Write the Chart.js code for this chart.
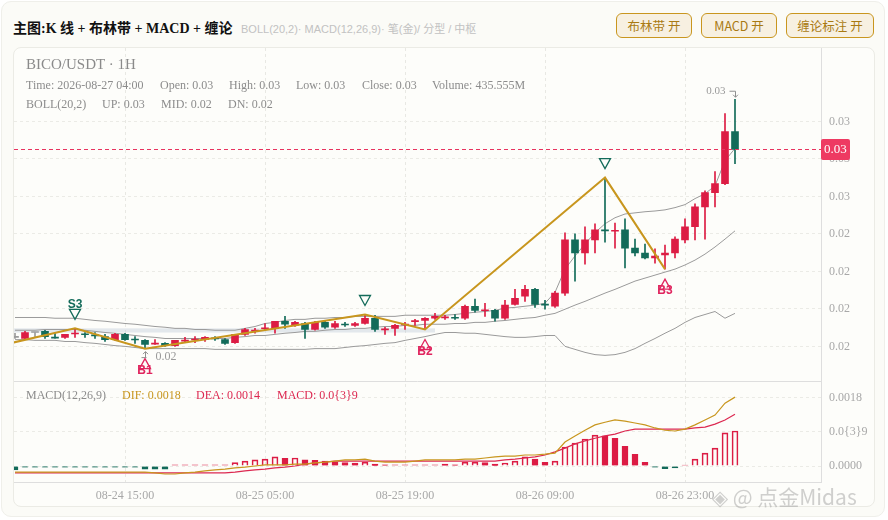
<!DOCTYPE html>
<html>
<head>
<meta charset="utf-8">
<script src="https://cdn.jsdelivr.net/npm/chart.js@4.4.1/dist/chart.umd.min.js"></script>
<style>
  body { margin: 0; width: 888px; height: 520px; background: #ffffff; position: relative; overflow: hidden;
         font-family: "Noto Sans CJK SC", "Noto Sans", sans-serif; }
  .card { position: absolute; left: 1px; top: 1px; width: 884px; height: 516px; box-sizing: border-box;
          border: 1px solid #efefea; border-radius: 10px; background: #fbfbf7; }
  .panel { position: absolute; left: 13px; top: 47px; width: 862px; height: 460px; box-sizing: border-box;
           border: 1px solid #ebebe5; border-radius: 8px; background: #fdfdfa; }
  .title { position: absolute; left: 13px; top: 17px; font: bold 14px "Liberation Serif", "Noto Sans CJK SC", serif; color: #111; white-space: nowrap; }
  .sub { position: absolute; left: 241px; top: 20px; font: 11px "Liberation Sans", "Noto Sans CJK SC", sans-serif; color: #c2c2c2; white-space: nowrap; }
  .btn { position: absolute; top: 13px; height: 25px; box-sizing: border-box; border: 1px solid #c9961f; border-radius: 6px;
         background: #f7f0e1; color: #a97a12; font-size: 12.5px; line-height: 23px; text-align: center; white-space: nowrap; }
  .wrap { position: absolute; left: 14px; top: 48px; width: 860px; height: 458px; }
  .info { position: absolute; font: 12px "Liberation Serif", serif; color: #8c8c8c; white-space: nowrap; }
  .mark { position: absolute; left: 712px; top: 481px; font-size: 21px; color: rgba(150,150,150,0.45); white-space: nowrap; }
</style>
</head>
<body>
<div class="card"></div>
<div class="panel"></div>
<div class="title">主图:K 线 + 布林带 + MACD + 缠论</div>
<div class="sub">BOLL(20,2)· MACD(12,26,9)· 笔(金)/ 分型 / 中枢</div>
<div class="btn" style="left:616px;width:76px">布林带 开</div>
<div class="btn" style="left:701px;width:76px">MACD 开</div>
<div class="btn" style="left:786px;width:88px">缠论标注 开</div>
<div class="wrap"><canvas id="kChart"></canvas></div>
<div class="info" style="left:26px;top:56px;font-size:15px;color:#8a8a8a">BICO/USDT · 1H</div>
<div class="info" id="row1" style="top:78px;left:0"></div>
<div class="info" id="row2" style="top:97px;left:0"></div>
<div class="info" id="row3" style="top:388px;left:0"></div>
<div class="mark">◈ @ 点金Midas</div>

<script>
// hourly candles, 08-24 04:00 .. 08-27 04:00
const lastTime = "2026-08-27 04:00";
const volume = "435.555M";
const tickIdx = [11, 25, 39, 53, 67];
const tickLabels = ["08-24 15:00", "08-25 05:00", "08-25 19:00", "08-26 09:00", "08-26 23:00"];
const priceTicks = [0.021, 0.022, 0.023, 0.024, 0.025, 0.026, 0.027];
const macdTicks = [0, 0.0009, 0.0018];

const opens = [0.02124,0.02121,0.02137,0.02140,0.02124,0.02124,0.02133,0.02132,0.02129,0.02126,
  0.02118,0.02132,0.02118,0.02116,0.02106,0.02108,0.02102,0.02114,0.02117,0.02118,
  0.02121,0.02118,0.02110,0.02132,0.02141,0.02147,0.02148,0.02167,0.02156,0.02161,
  0.02145,0.02164,0.02151,0.02159,0.02156,0.02161,0.02175,0.02144,0.02148,0.02157,
  0.02166,0.02169,0.02175,0.02176,0.02176,0.02175,0.02207,0.02195,0.02196,0.02175,
  0.02212,0.02234,0.02252,0.02211,0.02207,0.02242,0.02384,0.02349,0.02384,0.02409,
  0.02407,0.02411,0.02362,0.02349,0.02336,0.02344,0.02349,0.02384,0.02419,0.02472,
  0.02510,0.02534,0.02673];
const highs = [0.02135,0.02140,0.02137,0.02143,0.02137,0.02132,0.02148,0.02137,0.02137,0.02132,
  0.02135,0.02135,0.02126,0.02118,0.02118,0.02110,0.02116,0.02124,0.02126,0.02126,
  0.02126,0.02121,0.02132,0.02148,0.02148,0.02161,0.02167,0.02180,0.02167,0.02164,
  0.02167,0.02167,0.02167,0.02164,0.02164,0.02185,0.02183,0.02151,0.02159,0.02164,
  0.02172,0.02177,0.02188,0.02183,0.02185,0.02210,0.02226,0.02215,0.02199,0.02223,
  0.02252,0.02263,0.02255,0.02223,0.02247,0.02403,0.02400,0.02419,0.02427,0.02550,
  0.02429,0.02440,0.02386,0.02373,0.02360,0.02370,0.02392,0.02440,0.02480,0.02515,
  0.02566,0.02721,0.02759];
const lows = [0.02121,0.02118,0.02124,0.02121,0.02122,0.02121,0.02124,0.02124,0.02121,0.02113,
  0.02116,0.02116,0.02108,0.02094,0.02105,0.02100,0.02100,0.02110,0.02110,0.02113,
  0.02116,0.02105,0.02108,0.02129,0.02135,0.02143,0.02135,0.02148,0.02153,0.02121,
  0.02143,0.02148,0.02148,0.02153,0.02153,0.02159,0.02140,0.02132,0.02129,0.02145,
  0.02156,0.02145,0.02172,0.02172,0.02172,0.02172,0.02191,0.02180,0.02167,0.02172,
  0.02210,0.02220,0.02204,0.02199,0.02204,0.02236,0.02274,0.02319,0.02349,0.02378,
  0.02362,0.02309,0.02341,0.02333,0.02322,0.02306,0.02336,0.02376,0.02384,0.02386,
  0.02472,0.02531,0.02587];
const closes = [0.02124,0.02137,0.02137,0.02126,0.02122,0.02132,0.02135,0.02131,0.02128,0.02118,
  0.02132,0.02118,0.02117,0.02105,0.02108,0.02102,0.02116,0.02116,0.02118,0.02124,
  0.02120,0.02108,0.02132,0.02145,0.02143,0.02148,0.02167,0.02159,0.02164,0.02145,
  0.02164,0.02151,0.02161,0.02157,0.02161,0.02175,0.02145,0.02145,0.02156,0.02159,
  0.02167,0.02175,0.02180,0.02177,0.02175,0.02207,0.02196,0.02196,0.02175,0.02210,
  0.02228,0.02252,0.02212,0.02210,0.02242,0.02384,0.02349,0.02384,0.02411,0.02408,
  0.02408,0.02362,0.02349,0.02336,0.02341,0.02349,0.02386,0.02419,0.02472,0.02510,
  0.02534,0.02673,0.02625];

const bollUp = [0.02177,0.02177,0.02177,0.02177,0.02175,0.02175,0.02175,0.02172,0.02169,0.02167,
  0.02164,0.02161,0.02159,0.02156,0.02153,0.02151,0.02148,0.02148,0.02145,0.02145,
  0.02143,0.02143,0.02143,0.02148,0.02153,0.02161,0.02164,0.02169,0.02172,0.02172,
  0.02175,0.02175,0.02177,0.02177,0.02180,0.02180,0.02180,0.02180,0.02180,0.02183,
  0.02183,0.02183,0.02183,0.02183,0.02185,0.02188,0.02191,0.02193,0.02196,0.02202,
  0.02204,0.02207,0.02210,0.02215,0.02244,0.02306,0.02341,0.02373,0.02403,0.02427,
  0.02443,0.02453,0.02456,0.02459,0.02461,0.02464,0.02470,0.02478,0.02494,0.02507,
  0.02528,0.02595,0.02628];
const bollMid = [0.02143,0.02143,0.02143,0.02145,0.02145,0.02145,0.02145,0.02143,0.02140,0.02137,
  0.02135,0.02132,0.02129,0.02126,0.02124,0.02121,0.02121,0.02121,0.02121,0.02121,
  0.02121,0.02121,0.02124,0.02126,0.02129,0.02129,0.02132,0.02135,0.02137,0.02140,
  0.02140,0.02143,0.02145,0.02145,0.02148,0.02148,0.02151,0.02153,0.02153,0.02156,
  0.02156,0.02159,0.02159,0.02159,0.02161,0.02161,0.02164,0.02164,0.02167,0.02169,
  0.02172,0.02175,0.02177,0.02183,0.02188,0.02199,0.02210,0.02220,0.02231,0.02242,
  0.02252,0.02263,0.02274,0.02282,0.02290,0.02298,0.02306,0.02317,0.02330,0.02346,
  0.02365,0.02386,0.02408];
const bollDn = [0.02118,0.02118,0.02116,0.02116,0.02116,0.02113,0.02113,0.02110,0.02108,0.02105,
  0.02102,0.02100,0.02097,0.02094,0.02094,0.02094,0.02094,0.02094,0.02094,0.02094,
  0.02092,0.02092,0.02092,0.02092,0.02092,0.02092,0.02092,0.02092,0.02092,0.02092,
  0.02094,0.02094,0.02094,0.02097,0.02100,0.02102,0.02105,0.02108,0.02110,0.02116,
  0.02121,0.02126,0.02132,0.02137,0.02137,0.02135,0.02135,0.02132,0.02129,0.02126,
  0.02124,0.02124,0.02126,0.02129,0.02129,0.02100,0.02092,0.02084,0.02078,0.02076,
  0.02078,0.02084,0.02094,0.02108,0.02121,0.02135,0.02148,0.02164,0.02177,0.02185,
  0.02193,0.02175,0.02188];

const dif = [-0.00016,-0.00016,-0.00016,-0.00016,-0.00016,-0.00016,-0.00016,-0.00016,-0.00016,-0.00016,
  -0.00016,-0.00016,-0.00016,-0.00016,-0.00018,-0.00021,-0.00021,-0.00018,-0.00016,-0.00013,
  -0.00010,-0.00008,-0.00005,-0.00003,0.00000,0.00003,0.00003,0.00003,0.00005,0.00005,
  0.00008,0.00010,0.00013,0.00016,0.00016,0.00018,0.00013,0.00010,0.00010,0.00010,
  0.00013,0.00016,0.00016,0.00016,0.00016,0.00018,0.00018,0.00021,0.00024,0.00026,
  0.00026,0.00029,0.00029,0.00031,0.00034,0.00063,0.00079,0.00094,0.00108,0.00115,
  0.00121,0.00118,0.00113,0.00108,0.00100,0.00094,0.00092,0.00097,0.00108,0.00121,
  0.00134,0.00165,0.00181];
const dea = [-0.00018,-0.00018,-0.00018,-0.00018,-0.00018,-0.00018,-0.00018,-0.00018,-0.00018,-0.00018,
  -0.00018,-0.00018,-0.00018,-0.00018,-0.00018,-0.00018,-0.00018,-0.00018,-0.00018,-0.00018,
  -0.00018,-0.00018,-0.00016,-0.00013,-0.00010,-0.00008,-0.00005,-0.00003,0.00000,0.00005,
  0.00008,0.00010,0.00013,0.00013,0.00013,0.00013,0.00013,0.00013,0.00013,0.00013,
  0.00013,0.00013,0.00013,0.00013,0.00013,0.00013,0.00013,0.00013,0.00013,0.00016,
  0.00018,0.00021,0.00024,0.00029,0.00037,0.00047,0.00058,0.00066,0.00073,0.00079,
  0.00084,0.00092,0.00097,0.00097,0.00097,0.00097,0.00097,0.00097,0.00100,0.00102,
  0.00110,0.00121,0.00136];
const hist = [-0.00010,-0.00003,-0.00003,-0.00003,-0.00003,-0.00003,-0.00003,-0.00003,-0.00003,-0.00003,
  -0.00003,-0.00003,-0.00003,-0.00008,-0.00008,-0.00008,0.00003,0.00003,0.00003,0.00003,
  0.00003,0.00003,0.00009,0.00013,0.00016,0.00018,0.00024,0.00020,0.00021,0.00016,
  0.00015,0.00013,0.00010,0.00009,0.00008,0.00010,0.00005,0.00003,0.00003,0.00003,
  0.00003,0.00003,0.00003,0.00005,0.00003,0.00010,0.00010,0.00009,0.00005,0.00008,
  0.00013,0.00024,0.00018,0.00010,0.00013,0.00050,0.00060,0.00071,0.00081,0.00079,
  0.00073,0.00052,0.00031,0.00010,-0.00003,-0.00007,-0.00005,0.00001,0.00018,0.00034,
  0.00047,0.00087,0.00092];

// 缠论: bi vertices, fractal marks, one pivot box
const biIdx = [-0.2, 6, 13, 35, 41, 59, 65];
const biVal = [0.02110, 0.02148, 0.02094, 0.02185, 0.02145, 0.02550, 0.02306];
const topMarks = [6, 35, 59];
const topNames = ["S3", "", ""];
const bottomMarks = [13, 41, 65];
const bottomNames = ["B1", "B2", "B3"];
const zsFrom = -0.2, zsTo = 42, zsLow = 0.02137, zsHigh = 0.02148;

const RED = "#dc1c44", GREEN = "#136b5a", GRAY = "#9a9a9a", GOLD = "#c8961e";
const n = closes.length;
const last = n - 1;

function macdFmt(v) {
  if (Math.abs(v) < 1e-12) return "0.0000";
  const s = v.toFixed(4);
  const m = s.match(/^0\.(0{3,})(\d+)$/);
  return m ? "0.0{" + m[1].length + "}" + m[2] : s;
}

const sp = (left, text, color) => '<span style="position:absolute;left:' + left + 'px;' + (color ? 'color:' + color : '') + '">' + text + '</span>';
document.getElementById("row1").innerHTML =
  sp(26, "Time: " + lastTime) + sp(160, "Open: " + opens[last].toFixed(2)) + sp(229, "High: " + highs[last].toFixed(2)) +
  sp(296, "Low: " + lows[last].toFixed(2)) + sp(362, "Close: " + closes[last].toFixed(2)) + sp(432, "Volume: " + volume);
document.getElementById("row2").innerHTML =
  sp(26, "BOLL(20,2)") + sp(102, "UP: " + bollUp[last].toFixed(2)) + sp(161, "MID: " + bollMid[last].toFixed(2)) + sp(228, "DN: " + bollDn[last].toFixed(2));
document.getElementById("row3").innerHTML =
  sp(26, "MACD(12,26,9)") + sp(122, "DIF: " + dif[last].toFixed(4), GOLD) + sp(196, "DEA: " + dea[last].toFixed(4), "#dc2850") +
  sp(277, "MACD: " + macdFmt(hist[last]), "#dc2850");

const candleColor = closes.map((c, i) => c > opens[i] ? RED : (c < opens[i] ? GREEN : GRAY));
const histFill = hist.map((v, i) => v < 0 ? GREEN : (i > 0 && v < hist[i - 1] ? RED : "rgba(0,0,0,0)"));
const histLine = hist.map(v => v < 0 ? GREEN : RED);
const pts = arr => arr.map((v, i) => ({ x: i, y: v }));

function tri(ctx, x, yTip, yBase, color) {
  ctx.beginPath();
  ctx.moveTo(x - 5.5, yBase);
  ctx.lineTo(x + 5.5, yBase);
  ctx.lineTo(x, yTip);
  ctx.closePath();
  ctx.strokeStyle = color;
  ctx.lineWidth = 1.3;
  ctx.stroke();
}

// axes keep exact sizes, no label padding
const noPad = s => { s.paddingTop = 0; s.paddingBottom = 0; s.paddingLeft = 0; s.paddingRight = 0; };

const chanPlugin = {
  id: "chan",
  beforeDatasetsDraw(chart) {
    const { ctx, chartArea: a, scales: { x, y } } = chart;
    ctx.save();
    ctx.beginPath(); ctx.rect(a.left, y.top, a.width, y.height); ctx.clip();
    const x0 = x.getPixelForValue(zsFrom), x1 = x.getPixelForValue(zsTo);
    const y0 = y.getPixelForValue(zsHigh), y1 = y.getPixelForValue(zsLow);
    ctx.fillStyle = "rgba(185,198,212,0.38)";
    ctx.fillRect(x0, y0, x1 - x0, y1 - y0);
    ctx.restore();
  },
  afterDraw(chart) {
    const { ctx, chartArea: a, scales: { x, y } } = chart;
    ctx.save();
    // pane separator
    ctx.strokeStyle = "#dedede"; ctx.lineWidth = 1;
    ctx.beginPath(); ctx.moveTo(a.left, Math.round(y.bottom) + 0.5); ctx.lineTo(a.right, Math.round(y.bottom) + 0.5); ctx.stroke();

    ctx.font = "bold 12px 'Liberation Sans', sans-serif";
    ctx.textAlign = "center"; ctx.textBaseline = "middle";
    topMarks.forEach((i, k) => {
      const px = x.getPixelForValue(i), py = y.getPixelForValue(highs[i]);
      tri(ctx, px, py - 9, py - 19, GREEN);
      if (topNames[k]) { ctx.fillStyle = GREEN; ctx.fillText(topNames[k], px, py - 24); }
    });
    bottomMarks.forEach((i, k) => {
      const px = x.getPixelForValue(i), py = y.getPixelForValue(lows[i]);
      tri(ctx, px, py + 10, py + 20, "#e0245e");
      ctx.fillStyle = "#e0245e"; ctx.fillText(bottomNames[k], px, py + 22);
    });

    // lowest / highest price tags
    let lo = 0, hi = 0;
    lows.forEach((v, i) => { if (v < lows[lo]) lo = i; });
    highs.forEach((v, i) => { if (v > highs[hi]) hi = i; });
    ctx.strokeStyle = "#8f8f8f"; ctx.fillStyle = "#9a9a9a"; ctx.lineWidth = 1;
    ctx.font = "12px 'Liberation Serif', serif";
    let px = Math.round(x.getPixelForValue(lo)) + 0.5, py = y.getPixelForValue(lows[lo]);
    ctx.beginPath();
    ctx.moveTo(px, py + 9); ctx.lineTo(px, py + 3);
    ctx.moveTo(px - 2.5, py + 5.5); ctx.lineTo(px, py + 3); ctx.lineTo(px + 2.5, py + 5.5);
    ctx.moveTo(px - 4, py + 9); ctx.lineTo(px + 1, py + 9);
    ctx.stroke();
    ctx.textAlign = "left"; ctx.fillText(lows[lo].toFixed(2), px + 10, py + 8);
    px = Math.round(x.getPixelForValue(hi)) + 0.5; py = y.getPixelForValue(highs[hi]);
    ctx.beginPath();
    ctx.moveTo(px - 6, py - 8); ctx.lineTo(px, py - 8); ctx.lineTo(px, py - 2);
    ctx.moveTo(px - 2.5, py - 4.5); ctx.lineTo(px, py - 2); ctx.lineTo(px + 2.5, py - 4.5);
    ctx.stroke();
    ctx.textAlign = "right"; ctx.font = "11px 'Liberation Serif', serif";
    ctx.fillText(highs[hi].toFixed(2), px - 10, py - 8);

    // last price line + tag
    const lp = Math.round(y.getPixelForValue(closes[last])) + 0.5;
    ctx.strokeStyle = "#e8335f"; ctx.setLineDash([4, 3]);
    ctx.beginPath(); ctx.moveTo(a.left, lp); ctx.lineTo(a.right, lp); ctx.stroke();
    ctx.setLineDash([]);
    ctx.fillStyle = "#ee3a62";
    ctx.beginPath(); ctx.roundRect(a.right, lp - 10.5, 29, 21, 2); ctx.fill();
    ctx.fillStyle = "#ffffff"; ctx.font = "13px 'Liberation Serif', serif";
    ctx.textAlign = "left"; ctx.fillText(closes[last].toFixed(2), a.right + 3, lp + 0.5);
    ctx.restore();
  }
};

Chart.defaults.font.family = "'Liberation Serif', serif";
Chart.defaults.font.size = 12;

const ctx = document.getElementById("kChart").getContext("2d");
const kChart = new Chart(ctx, {
  type: "bar",
  data: {
    datasets: [
      { type: "line", label: "bi", data: biIdx.map((v, i) => ({ x: v, y: biVal[i] })), yAxisID: "y",
        borderColor: GOLD, borderWidth: 2, pointRadius: 0, order: 0 },
      { label: "body", data: opens.map((o, i) => ({ x: i, y: [o, closes[i]] })), yAxisID: "y",
        backgroundColor: candleColor, barThickness: 7, minBarLength: 1, grouped: false, order: 1 },
      { label: "wick", data: lows.map((l, i) => ({ x: i, y: [l, highs[i]] })), yAxisID: "y",
        backgroundColor: candleColor, barThickness: 1, grouped: false, order: 2 },
      { type: "line", label: "UP", data: pts(bollUp), yAxisID: "y", borderColor: GRAY, borderWidth: 1, pointRadius: 0, order: 3 },
      { type: "line", label: "MID", data: pts(bollMid), yAxisID: "y", borderColor: GRAY, borderWidth: 1, pointRadius: 0, order: 3 },
      { type: "line", label: "DN", data: pts(bollDn), yAxisID: "y", borderColor: GRAY, borderWidth: 1, pointRadius: 0, order: 3 },
      { type: "line", label: "DIF", data: pts(dif), yAxisID: "m", borderColor: GOLD, borderWidth: 1.2, pointRadius: 0, order: 0 },
      { type: "line", label: "DEA", data: pts(dea), yAxisID: "m", borderColor: "#dc2850", borderWidth: 1.2, pointRadius: 0, order: 0 },
      { label: "MACD", data: pts(hist), yAxisID: "m", backgroundColor: histFill, borderColor: histLine,
        borderWidth: 1, barThickness: 6, minBarLength: 1, grouped: false, order: 4 }
    ]
  },
  options: {
    responsive: true,
    maintainAspectRatio: false,
    animation: false,
    events: [],
    layout: { padding: 0 },
    plugins: { legend: { display: false }, tooltip: { enabled: false } },
    scales: {
      x: {
        type: "linear", min: -0.1, max: 80.6, offset: false,
        afterBuildTicks: s => { s.ticks = tickIdx.map(v => ({ value: v })); },
        afterFit: s => { s.height = 24; noPad(s); },
        ticks: { color: "#a8a8a8", padding: 7, maxRotation: 0, autoSkip: false,
                 callback: v => tickLabels[tickIdx.indexOf(v)] },
        grid: { color: "#e8e8e3", drawTicks: false, offset: false },
        border: { color: "#dedede", dash: [3, 3] }
      },
      y: {
        position: "right", stack: "pane", stackWeight: 331, offset: false,
        min: 0.020089, max: 0.028956,
        afterBuildTicks: s => { s.ticks = priceTicks.map(v => ({ value: v })); },
        afterFit: s => { s.width = 53; noPad(s); },
        ticks: { color: "#a8a8a8", padding: 8, callback: v => v.toFixed(2) },
        grid: { color: "#ebebe6", drawTicks: false },
        border: { color: "#dedede", dash: [3, 3] }
      },
      m: {
        position: "right", stack: "pane", stackWeight: 101, offset: false,
        min: -0.00042, max: 0.002246,
        afterBuildTicks: s => { s.ticks = macdTicks.map(v => ({ value: v })); },
        afterFit: s => { s.width = 53; noPad(s); },
        ticks: { color: "#a8a8a8", padding: 8, callback: v => macdFmt(v) },
        grid: { color: "#ebebe6", drawTicks: false },
        border: { color: "#dedede", dash: [3, 3] }
      }
    }
  },
  plugins: [chanPlugin]
});
</script>
</body>
</html>
